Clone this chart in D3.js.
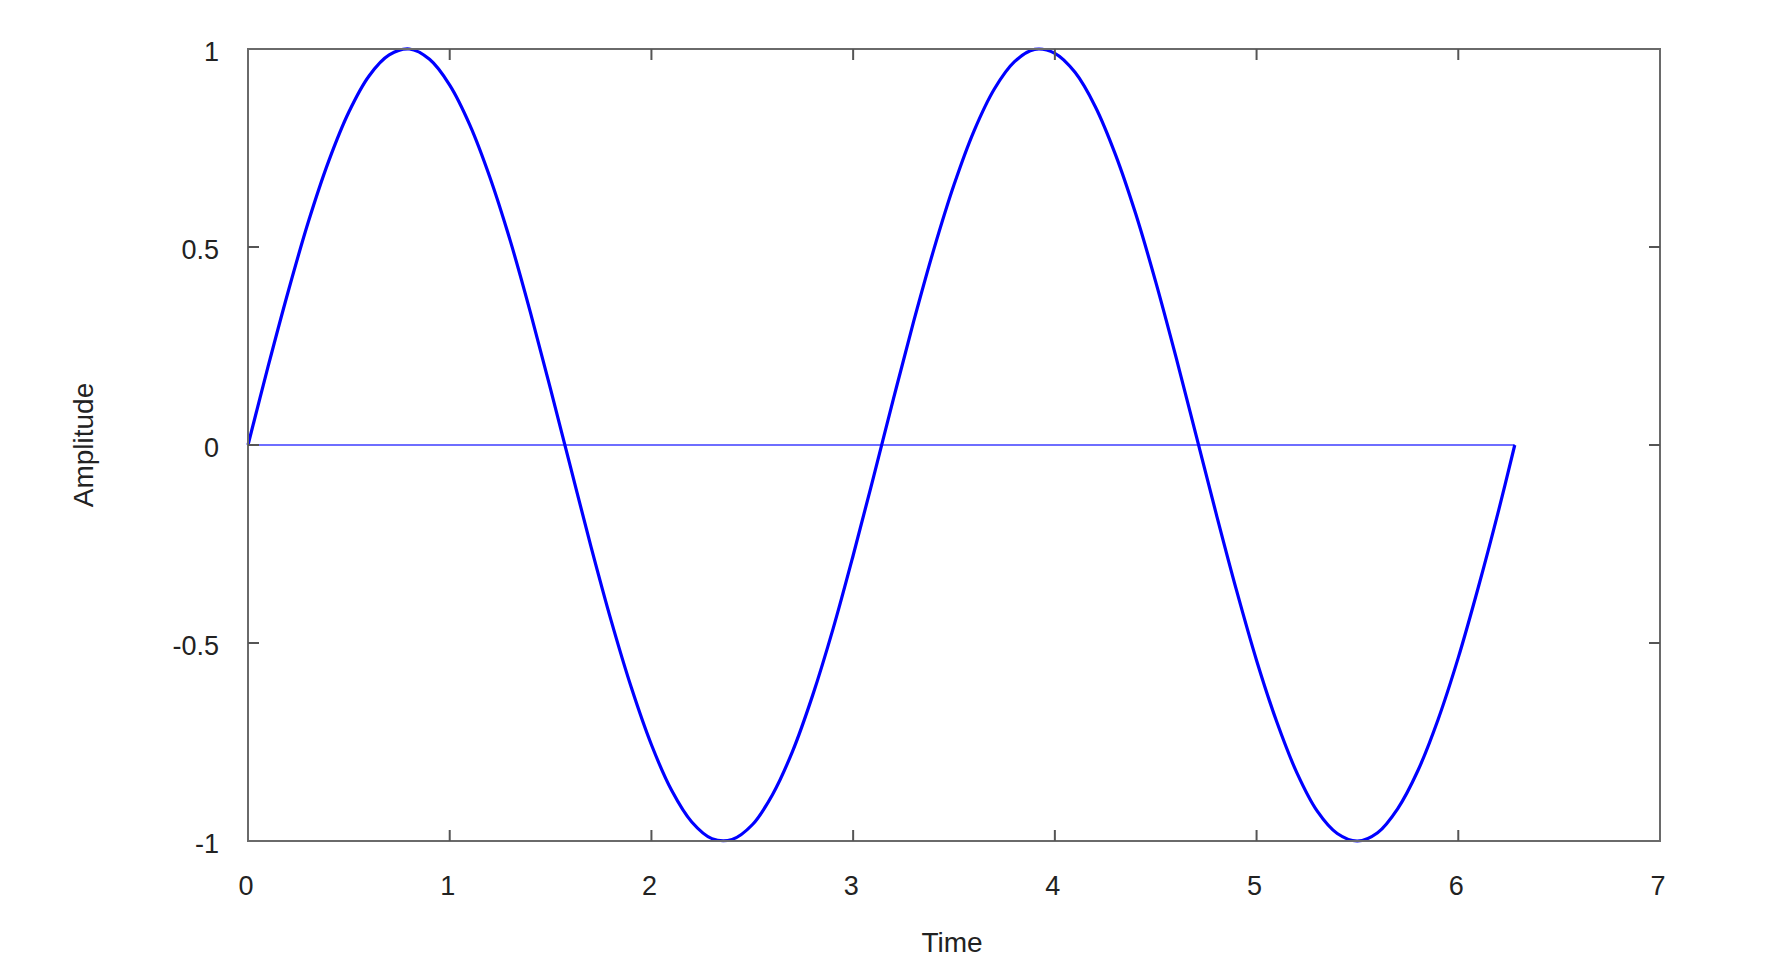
<!DOCTYPE html>
<html>
<head>
<meta charset="utf-8">
<script src="https://d3js.org/d3.v7.min.js"></script>
<style>
    body { margin: 0; background: #fff; }
    text { font-family: "Liberation Sans", Arial, sans-serif; fill: #222; }
</style>
</head>
<body>
<div id="chart"></div>
<script>
    // values
    var time = [0, 0.1, 0.2, 0.3, 0.4, 0.5, 0.6, 0.7, 0.8, 0.9,
        1.0, 1.1, 1.2, 1.3, 1.4, 1.5, 1.6, 1.7, 1.8, 1.9,
        2.0, 2.1, 2.2, 2.3, 2.4, 2.5, 2.6, 2.7, 2.8, 2.9,
        3.0, 3.1, 3.2, 3.3, 3.4, 3.5, 3.6, 3.7, 3.8, 3.9,
        4.0, 4.1, 4.2, 4.3, 4.4, 4.5, 4.6, 4.7, 4.8, 4.9,
        5.0, 5.1, 5.2, 5.3, 5.4, 5.5, 5.6, 5.7, 5.8, 5.9,
        6.0, 6.1, 6.2, 6.28];
    var amplitude = [0, 0.199, 0.389, 0.565, 0.717, 0.841, 0.932, 0.985, 1.0, 0.974,
        0.909, 0.808, 0.675, 0.516, 0.335, 0.141, -0.058, -0.256, -0.443, -0.612,
        -0.757, -0.872, -0.952, -0.994, -0.996, -0.959, -0.883, -0.773, -0.631, -0.465,
        -0.279, -0.083, 0.117, 0.312, 0.494, 0.657, 0.794, 0.899, 0.968, 0.999,
        0.989, 0.941, 0.855, 0.734, 0.585, 0.412, 0.223, 0.025, -0.174, -0.366,
        -0.544, -0.699, -0.828, -0.924, -0.981, -1.0, -0.979, -0.918, -0.822, -0.693,
        -0.537, -0.358, -0.165, 0];
    var xTicks = [0, 1, 2, 3, 4, 5, 6, 7];
    var yTicks = [-1, -0.5, 0, 0.5, 1];

    var width = 1782, height = 975;
    var margin = { top: 49, left: 248, bottom: 134, right: 122 };

    var svg = d3.select("#chart").append("svg")
        .attr("width", width)
        .attr("height", height);

    var x = d3.scaleLinear().domain([0, 7]).range([margin.left, width - margin.right]);
    var y = d3.scaleLinear().domain([-1, 1]).range([height - margin.bottom, margin.top]);

    var pts = time.map(function (t, i) { return [t, amplitude[i]]; });

    // closing line from the last point back to the start
    svg.append("line")
        .attr("x1", x(time[time.length - 1])).attr("y1", y(0))
        .attr("x2", x(0)).attr("y2", y(0))
        .attr("stroke", "#6e6eff")
        .attr("stroke-width", 2);

    var line = d3.line()
        .curve(d3.curveCatmullRom)
        .x(function (d) { return x(d[0]); })
        .y(function (d) { return y(d[1]); });

    svg.append("path")
        .datum(pts)
        .attr("d", line)
        .attr("fill", "none")
        .attr("stroke", "#0000ff")
        .attr("stroke-width", 3.2)
        .attr("stroke-linejoin", "round");

    // frame
    svg.append("rect")
        .attr("x", x(0)).attr("y", y(1))
        .attr("width", x(7) - x(0))
        .attr("height", y(-1) - y(1))
        .attr("fill", "none")
        .attr("stroke", "#6a6a6a")
        .attr("stroke-width", 2);

    var tl = 11;
    var axis = svg.append("g").attr("stroke", "#555").attr("stroke-width", 2);
    xTicks.slice(1, -1).forEach(function (t) {
        axis.append("line").attr("x1", x(t)).attr("x2", x(t))
            .attr("y1", y(-1)).attr("y2", y(-1) - tl);
        axis.append("line").attr("x1", x(t)).attr("x2", x(t))
            .attr("y1", y(1)).attr("y2", y(1) + tl);
    });
    yTicks.slice(1, -1).forEach(function (v) {
        axis.append("line").attr("y1", y(v)).attr("y2", y(v))
            .attr("x1", x(0)).attr("x2", x(0) + tl);
        axis.append("line").attr("y1", y(v)).attr("y2", y(v))
            .attr("x1", x(7)).attr("x2", x(7) - tl);
    });

    svg.append("g").selectAll("text")
        .data(xTicks)
        .enter().append("text")
        .attr("x", function (d) { return x(d) - 2; })
        .attr("y", 895)
        .attr("text-anchor", "middle")
        .attr("font-size", 27)
        .text(function (d) { return d; });

    svg.append("g").selectAll("text")
        .data(yTicks)
        .enter().append("text")
        .attr("x", 219)
        .attr("y", function (d) { return y(d) + 12; })
        .attr("text-anchor", "end")
        .attr("font-size", 27)
        .text(function (d) { return d; });

    svg.append("text")
        .attr("x", 952)
        .attr("y", 952)
        .attr("text-anchor", "middle")
        .attr("font-size", 28)
        .text("Time");

    svg.append("text")
        .attr("transform", "translate(93," + y(0) + ") rotate(-90)")
        .attr("text-anchor", "middle")
        .attr("font-size", 28)
        .text("Amplitude");
</script>
</body>
</html>
